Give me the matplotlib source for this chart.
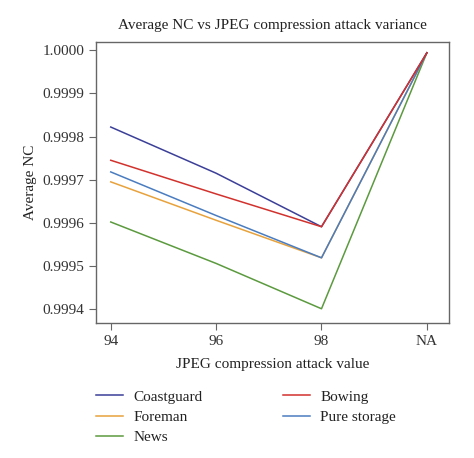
import matplotlib
matplotlib.use("Agg")
import matplotlib.pyplot as plt

categories = ["94", "96", "98", "NA"]
coastguard = [0.999822, 0.999715, 0.999591, 0.999994]
bowing = [0.999745, 0.999667, 0.999591, 0.999994]
foreman = [0.999695, 0.999606, 0.999519, 0.999994]
pure_storage = [0.999718, 0.999617, 0.999519, 0.999994]
news = [0.999602, 0.999506, 0.999401, 0.999994]
yticks = [0.9994, 0.9995, 0.9996, 0.9997, 0.9998, 0.9999, 1.0000]

plt.rcParams['font.family'] = ['Liberation Serif', 'DejaVu Serif']
fig = plt.figure(figsize=(4.74, 4.58), dpi=100)
ax = fig.add_axes([96/474, 1-323/458, (449-96)/474, (323-42)/458])

x = list(range(len(categories)))
series = [
    ("Coastguard", coastguard, "#3b3f98"),
    ("Foreman", foreman, "#e8a23c"),
    ("News", news, "#5b9a3e"),
    ("Bowing", bowing, "#d2322d"),
    ("Pure storage", pure_storage, "#4a7cc0"),
]
handles = {}
draw_order = ["News", "Foreman", "Pure storage", "Coastguard", "Bowing"]
lookup = {n: (v, c) for n, v, c in series}
for n in draw_order:
    v, c = lookup[n]
    h, = ax.plot(x, v, color=c, lw=1.1)
    handles[n] = h

ax.set_xticks(x)
ax.set_xticklabels(categories)
ax.set_yticks(yticks)
ax.set_yticklabels([f"{t:.4f}" for t in yticks])
ax.set_xlim(-0.14, 3.21)
ax.set_ylim(0.999368, 1.000019)
for s in ax.spines.values():
    s.set_color("#666666")
    s.set_linewidth(1.0)
ax.tick_params(colors="#333333", labelsize=11, length=5, color="#666666")
ax.set_title("Average NC vs JPEG compression attack variance", fontsize=11, pad=9, color="#222222")
ax.set_xlabel("JPEG compression attack value", fontsize=11, color="#222222", labelpad=7)
ax.set_ylabel("Average NC", fontsize=11, color="#222222", labelpad=4)

names = [n for n, _, _ in series]
leg = fig.legend([handles[n] for n in names], names, ncol=2, loc="upper left",
                 bbox_to_anchor=(90/474, 1-384/458), frameon=False, fontsize=11,
                 handlelength=1.77, columnspacing=5.3, labelspacing=0.42, handletextpad=0.65,
                 borderaxespad=0)
for t in leg.get_texts():
    t.set_color("#222222")

fig.savefig("out.png", dpi=100)
